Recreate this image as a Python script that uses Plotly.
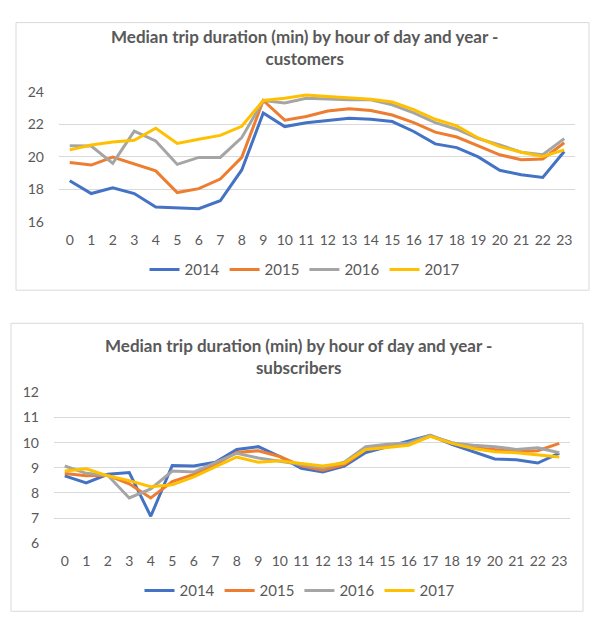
import plotly.graph_objects as go

hours = [str(h) for h in range(24)]
years = ["2014", "2015", "2016", "2017"]
colors = ["#4472C4", "#ED7D31", "#A5A5A5", "#FFC000"]

cust_2014 = [18.54, 17.75, 18.1, 17.75, 16.92, 16.86, 16.82, 17.31, 19.2, 22.7, 21.86, 22.1,
             22.25, 22.37, 22.31, 22.17, 21.56, 20.8, 20.57, 20.0, 19.18, 18.9, 18.74, 20.33]
cust_2015 = [19.65, 19.5, 19.99, 19.58, 19.14, 17.81, 18.05, 18.64, 19.97, 23.46, 22.25, 22.48,
             22.81, 22.95, 22.85, 22.57, 22.1, 21.52, 21.22, 20.67, 20.13, 19.83, 19.87, 20.87]
cust_2016 = [20.69, 20.67, 19.6, 21.58, 20.98, 19.54, 19.97, 19.97, 21.18, 23.46, 23.31, 23.6,
             23.56, 23.5, 23.5, 23.2, 22.7, 22.1, 21.7, 21.12, 20.73, 20.29, 20.13, 21.12]
cust_2017 = [20.43, 20.73, 20.92, 21.02, 21.76, 20.83, 21.08, 21.32, 21.88, 23.46, 23.6, 23.8,
             23.7, 23.64, 23.54, 23.37, 22.9, 22.31, 21.9, 21.16, 20.63, 20.29, 20.03, 20.43]

subs_2014 = [8.68, 8.40, 8.74, 8.81, 7.07, 9.09, 9.07, 9.22, 9.73, 9.84, 9.45, 8.98,
             8.83, 9.07, 9.61, 9.84, 10.07, 10.29, 9.93, 9.64, 9.35, 9.32, 9.19, 9.58]
subs_2015 = [8.77, 8.68, 8.70, 8.36, 7.80, 8.45, 8.74, 9.13, 9.61, 9.68, 9.45, 9.08,
             8.90, 9.13, 9.73, 9.84, 9.97, 10.26, 10.0, 9.80, 9.71, 9.64, 9.68, 9.97]
subs_2016 = [9.07, 8.78, 8.70, 7.80, 8.16, 8.87, 8.83, 9.19, 9.58, 9.39, 9.26, 9.13,
             9.0, 9.22, 9.84, 9.94, 9.99, 10.29, 9.99, 9.90, 9.84, 9.73, 9.80, 9.60]
subs_2017 = [8.87, 8.96, 8.68, 8.49, 8.25, 8.32, 8.64, 9.04, 9.43, 9.22, 9.28, 9.17,
             9.07, 9.19, 9.73, 9.81, 9.90, 10.25, 9.97, 9.77, 9.64, 9.60, 9.52, 9.43]

title_top = "Median trip duration (min) by hour of day and year -<br>customers"
title_bot = "Median trip duration (min) by hour of day and year -<br>subscribers"

W, H = 604, 630
def px(x): return x / W
def py(y): return 1 - y / H

FONT = "Lato, 'Open Sans', sans-serif"
TXT = "#595959"
GRID = "#D9D9D9"

fig = go.Figure()
cust = [cust_2014, cust_2015, cust_2016, cust_2017]
subs = [subs_2014, subs_2015, subs_2016, subs_2017]
for yr, c, vals in zip(years, colors, cust):
    fig.add_trace(go.Scatter(x=hours, y=vals, mode="lines", name=yr,
                             line=dict(color=c, width=3), xaxis="x", yaxis="y",
                             legend="legend"))
for yr, c, vals in zip(years, colors, subs):
    fig.add_trace(go.Scatter(x=hours, y=vals, mode="lines", name=yr,
                             line=dict(color=c, width=3), xaxis="x2", yaxis="y2",
                             legend="legend2"))

axis_common = dict(showline=False, zeroline=False, ticks="",
                   tickfont=dict(family=FONT, size=14, color=TXT))
fig.update_layout(
    width=W, height=H, margin=dict(l=0, r=0, t=0, b=0),
    paper_bgcolor="white", plot_bgcolor="white",
    font=dict(family=FONT, color=TXT),
    xaxis=dict(domain=[px(59), px(575)], anchor="y", type="category",
               range=[-0.5, 23.5], showgrid=False, ticklabelstandoff=8, **axis_common),
    yaxis=dict(domain=[py(219), py(85)], anchor="x", range=[16, 24], dtick=2,
               showgrid=True, gridcolor=GRID, gridwidth=1, ticklabelstandoff=14, **axis_common),
    xaxis2=dict(domain=[px(54), px(570)], anchor="y2", type="category",
                range=[-0.5, 23.5], showgrid=False, ticklabelstandoff=8, **axis_common),
    yaxis2=dict(domain=[py(549), py(394)], anchor="x2", range=[6, 12], dtick=1,
                showgrid=True, gridcolor=GRID, gridwidth=1, ticklabelstandoff=14, **axis_common),
    legend=dict(orientation="h", x=px(305), xanchor="center", y=py(268), yanchor="middle",
                font=dict(family=FONT, size=15, color=TXT), itemwidth=30,
                bgcolor="rgba(0,0,0,0)"),
    legend2=dict(orientation="h", x=px(300), xanchor="center", y=py(598), yanchor="middle",
                 font=dict(family=FONT, size=15, color=TXT), itemwidth=30,
                 bgcolor="rgba(0,0,0,0)"),
    shapes=[
        dict(type="rect", xref="paper", yref="paper", x0=px(16), x1=px(589),
             y0=py(289), y1=py(14), line=dict(color=GRID, width=1)),
        dict(type="rect", xref="paper", yref="paper", x0=px(11), x1=px(583),
             y0=py(619), y1=py(323), line=dict(color=GRID, width=1)),
    ],
    annotations=[
        dict(text="<b>" + title_top + "</b>", xref="paper", yref="paper",
             x=px(304), y=py(40), xanchor="center", yanchor="middle", showarrow=False,
             font=dict(family=FONT, size=17, color=TXT)),
        dict(text="<b>" + title_bot + "</b>", xref="paper", yref="paper",
             x=px(298), y=py(357), xanchor="center", yanchor="middle", showarrow=False,
             font=dict(family=FONT, size=17, color=TXT)),
    ],
)

fig.write_html("out.html")
